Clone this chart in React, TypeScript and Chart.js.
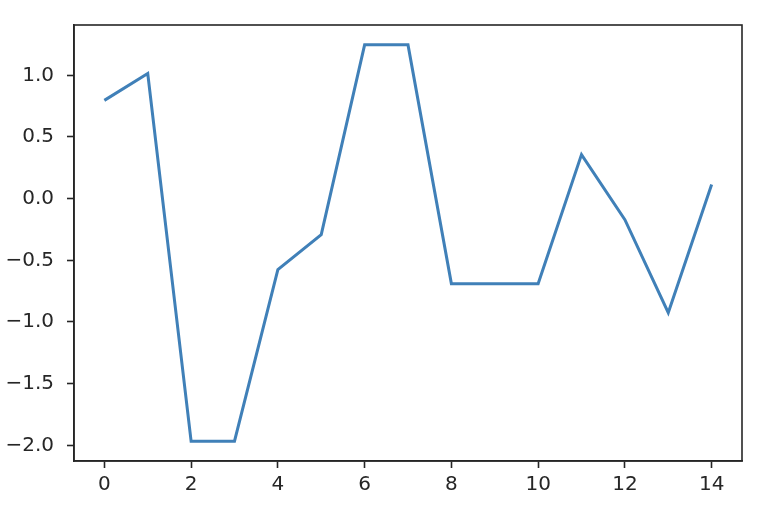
import React, { useEffect, useRef } from 'react';
import { Chart, registerables } from 'chart.js';

Chart.register(...registerables);

const xValues = [0, 1, 2, 3, 4, 5, 6, 7, 8, 9, 10, 11, 12, 13, 14];
const yValues = [0.797, 1.014, -1.966, -1.966, -0.576, -0.292, 1.247, 1.247, -0.689, -0.689, -0.689, 0.357, -0.17, -0.925, 0.114];
const xTicks = [0, 2, 4, 6, 8, 10, 12, 14];
const yTicks = [-2.0, -1.5, -1.0, -0.5, 0.0, 0.5, 1.0];

const AXIS_COLOR = '#262626';
const TEXT_COLOR = '#262626';
const LINE_COLOR = '#4080b8';
const FONT = { family: '"DejaVu Sans", sans-serif', size: 20 };

const framePlugin = {
  id: 'frame',
  afterDatasetsDraw(chart: any) {
    const { ctx, chartArea } = chart;
    ctx.save();
    ctx.strokeStyle = AXIS_COLOR;
    ctx.lineWidth = 1.6;
    ctx.strokeRect(chartArea.left, chartArea.top, chartArea.right - chartArea.left, chartArea.bottom - chartArea.top);
    ctx.restore();
  },
};

const fmtY = (v: number) => {
  const s = Math.abs(v).toFixed(1);
  return v < 0 ? '\u2212' + s : s;
};

export default function App() {
  const ref = useRef<HTMLCanvasElement | null>(null);

  useEffect(() => {
    if (!ref.current) return;
    const chart = new Chart(ref.current, {
      type: 'line',
      data: {
        datasets: [
          {
            data: xValues.map((x, i) => ({ x, y: yValues[i] })),
            borderColor: LINE_COLOR,
            borderWidth: 3,
            pointRadius: 0,
            fill: false,
            tension: 0,
            borderJoinStyle: 'miter',
            borderCapStyle: 'butt',
          },
        ],
      },
      options: {
        responsive: false,
        animation: false,
        layout: { padding: { top: 25, right: 20, left: 0, bottom: 0 } },
        plugins: { legend: { display: false }, tooltip: { enabled: false } },
        scales: {
          x: {
            type: 'linear',
            min: -0.7,
            max: 14.7,
            afterBuildTicks: (s: any) => {
              s.ticks = xTicks.map((v) => ({ value: v }));
            },
            afterFit: (s: any) => {
              s.height = 55;
            },
            ticks: {
              font: FONT,
              color: TEXT_COLOR,
              padding: 5,
              maxRotation: 0,
              autoSkip: false,
              callback: (v: any) => String(v),
            },
            grid: { drawOnChartArea: false, drawTicks: true, tickLength: 7, tickWidth: 1.6, tickColor: AXIS_COLOR },
            border: { display: true, color: AXIS_COLOR, width: 1.6 },
          },
          y: {
            type: 'linear',
            min: -2.127,
            max: 1.408,
            afterBuildTicks: (s: any) => {
              s.ticks = yTicks.map((v) => ({ value: v }));
            },
            afterFit: (s: any) => {
              s.width = 74;
            },
            ticks: {
              font: FONT,
              color: TEXT_COLOR,
              padding: 13,
              autoSkip: false,
              callback: (v: any) => fmtY(Number(v)),
            },
            grid: { drawOnChartArea: false, drawTicks: true, tickLength: 7, tickWidth: 1.6, tickColor: AXIS_COLOR },
            border: { display: true, color: AXIS_COLOR, width: 1.6 },
          },
        },
      },
      plugins: [framePlugin],
    });
    return () => chart.destroy();
  }, []);

  return (
    <div style={{ position: 'fixed', left: 0, top: 0, width: 762, height: 516, background: '#fff' }}>
      <canvas ref={ref} width={762} height={516} style={{ display: 'block', width: 762, height: 516 }} />
    </div>
  );
}
